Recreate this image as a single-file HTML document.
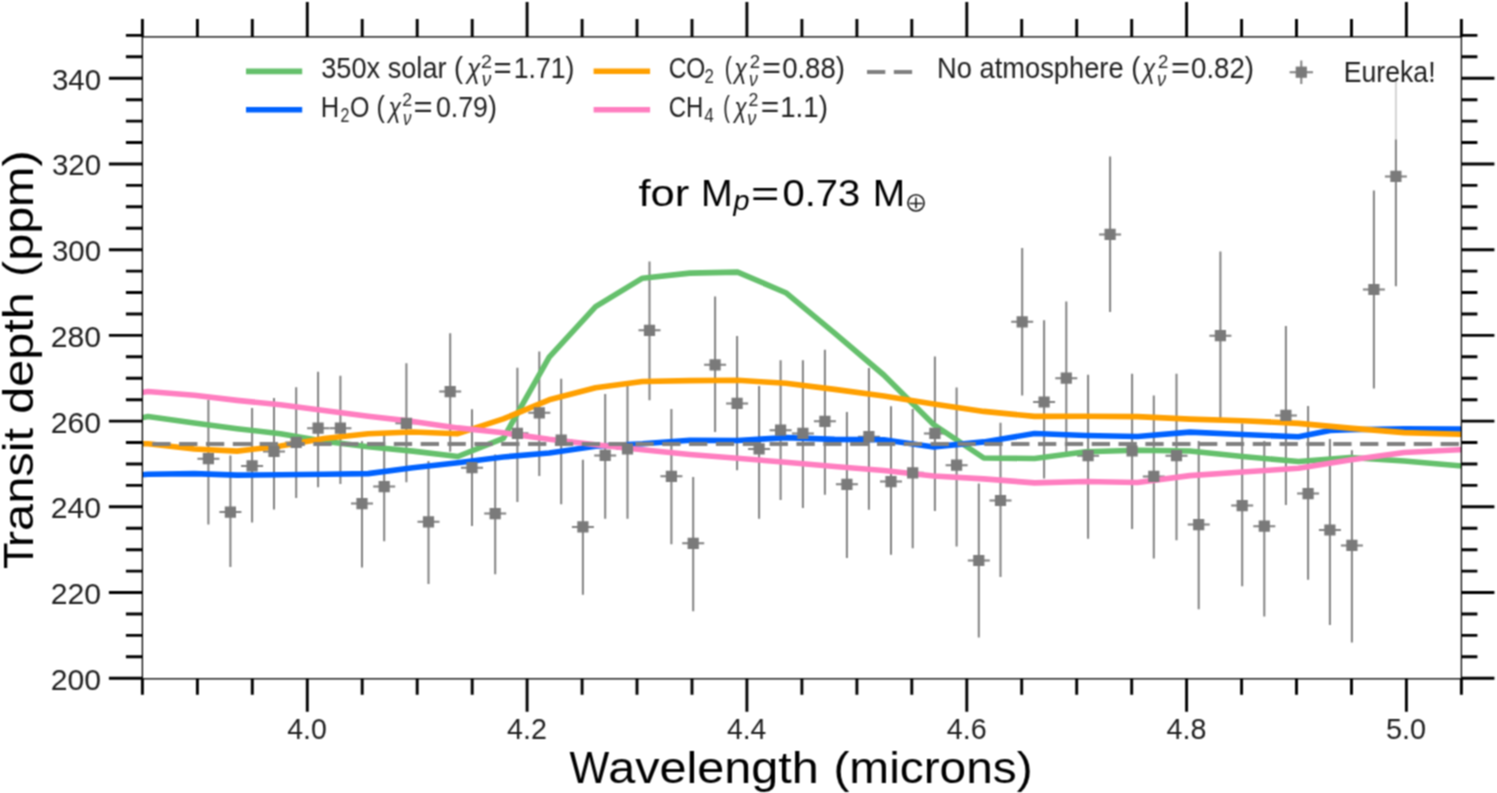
<!DOCTYPE html><html><head><meta charset="utf-8"><style>html,body{margin:0;padding:0;background:#fff;overflow:hidden;}svg{display:block;}text{font-family:"Liberation Sans",sans-serif;}</style></head><body>
<svg width="1497" height="793" viewBox="0 0 1497 793">
<defs><filter id="bl" filterUnits="userSpaceOnUse" x="-20" y="-20" width="1537" height="833" color-interpolation-filters="sRGB"><feConvolveMatrix order="3" kernelMatrix="1 2 1 2 4 2 1 2 1" divisor="16" edgeMode="duplicate" preserveAlpha="true"/></filter></defs>
<g filter="url(#bl)">
<rect x="-30" y="-30" width="1557" height="853" fill="#fff"/>
<defs><clipPath id="ax"><rect x="142.4" y="36.9" width="1319.0" height="641.9"/></clipPath></defs>
<g clip-path="url(#ax)">
<path d="M208.4 400.0V524.4M197.4 458.7H219.4M230.4 455.4V566.9M219.4 512.1H241.4M252.1 407.9V522.6M241.1 465.9H263.1M274.0 398.0V509.5M263.0 451.5H285.0M296.2 387.2V498.0M285.2 442.4H307.2M318.1 371.8V487.2M307.1 428.2H329.1M340.4 375.7V483.9M329.4 428.2H351.4M362.0 441.3V567.4M351.0 503.6H373.0M384.2 431.5V541.3M373.2 486.6H395.2M406.4 363.3V482.3M395.4 423.3H417.4M428.5 461.1V583.9M417.5 521.8H439.5M450.2 333.3V451.8M439.2 391.6H461.2M472.0 409.3V526.1M461.0 467.7H483.0M495.2 454.6V574.3M484.2 513.6H506.2M517.4 367.7V502.1M506.4 433.3H528.4M539.3 351.5V476.1M528.3 412.8H550.3M561.2 378.7V504.3M550.2 440.0H572.2M582.9 459.7V594.8M571.9 526.9H593.9M605.2 394.1V518.7M594.2 455.4H616.2M627.5 381.0V518.7M616.5 448.9H638.5M649.5 261.5V400.2M638.5 330.3H660.5M671.4 409.1V544.3M660.4 476.3H682.4M693.2 477.0V611.2M682.2 543.3H704.2M715.1 296.6V432.0M704.1 364.8H726.1M737.1 335.9V470.3M726.1 403.4H748.1M759.1 385.9V518.7M748.1 448.9H770.1M780.6 360.3V500.0M769.6 430.2H791.6M802.9 360.3V507.9M791.9 433.4H813.9M824.9 349.8V494.8M813.9 421.3H835.9M846.9 412.1V558.0M835.9 484.3H857.9M868.9 367.9V509.8M857.9 436.7H879.9M891.0 406.2V554.8M880.0 481.6H902.0M912.7 408.9V548.2M901.7 472.8H923.7M934.9 356.4V511.1M923.9 433.4H945.9M956.6 387.5V546.6M945.6 465.2H967.6M978.8 483.4V637.5M967.8 560.5H989.8M1000.5 422.8V576.9M989.5 500.5H1011.5M1022.2 248.0V395.6M1011.2 321.8H1033.2M1044.1 320.2V478.5M1033.1 402.0H1055.1M1066.3 301.5V454.9M1055.3 378.2H1077.3M1088.1 374.8V538.7M1077.1 455.7H1099.1M1110.1 156.4V312.1M1099.1 234.4H1121.1M1132.1 373.8V528.9M1121.1 451.0H1143.1M1153.8 395.4V558.4M1142.8 476.4H1164.8M1176.5 373.8V540.3M1165.5 455.7H1187.5M1198.7 441.0V609.2M1187.7 524.6H1209.7M1220.4 251.5V419.9M1209.4 335.7H1231.4M1242.2 423.6V586.2M1231.2 505.6H1253.2M1264.3 441.0V616.4M1253.3 526.2H1275.3M1285.9 325.9V504.9M1274.9 415.4H1296.9M1308.1 406.1V579.7M1297.1 493.6H1319.1M1329.9 438.9V625.1M1318.9 530.0H1340.9M1351.9 450.3V642.5M1340.9 545.4H1362.9M1373.9 190.5V388.5M1362.9 289.5H1384.9M1395.9 81.3V286.2M1384.9 176.4H1406.9" stroke="#808080" stroke-width="2" fill="none"/>
<path d="M109.9 424.0 L148.0 416.6 L194.3 422.9 L237.1 428.7 L280.4 433.7 L324.1 441.3 L368.2 446.8 L412.8 451.1 L457.8 456.5 L503.3 438.3 L549.2 357.1 L595.6 306.7 L642.5 278.2 L689.8 273.1 L737.6 272.1 L785.8 292.7 L834.6 333.1 L883.8 375.0 L933.6 424.5 L983.8 458.0 L1034.5 458.5 L1085.8 451.7 L1137.5 450.3 L1189.8 451.0 L1242.6 456.5 L1298.5 461.5 L1349.8 457.5 L1404.2 461.0 L1459.1 465.7 L1514.6 466.0" stroke="#65c06c" stroke-width="5.6" fill="none" stroke-linejoin="round" stroke-linecap="square"/>
<path d="M109.9 477.0 L148.0 474.3 L194.3 473.6 L237.1 475.1 L280.4 474.8 L324.1 474.2 L368.2 473.6 L412.8 467.8 L457.8 462.7 L503.3 457.0 L549.2 453.0 L595.6 446.2 L642.5 443.8 L689.8 440.2 L737.6 440.5 L785.8 437.6 L834.6 439.4 L883.8 439.7 L933.6 446.9 L983.8 441.9 L1034.5 433.5 L1085.8 435.5 L1137.5 436.5 L1189.8 432.1 L1242.6 434.5 L1298.5 436.8 L1330.0 430.4 L1349.8 429.8 L1404.2 428.8 L1459.1 429.0 L1514.6 429.0" stroke="#0062ff" stroke-width="5.6" fill="none" stroke-linejoin="round" stroke-linecap="square"/>
<path d="M109.9 443.5 L148.0 443.8 L194.3 449.0 L237.1 451.1 L280.4 446.1 L324.1 438.5 L368.2 433.7 L412.8 432.0 L457.8 433.7 L503.3 418.9 L549.2 399.8 L595.6 387.8 L642.5 381.5 L689.8 380.6 L737.6 380.3 L785.8 383.3 L834.6 389.4 L883.8 396.0 L933.6 403.9 L983.8 411.4 L1034.5 416.4 L1085.8 416.2 L1137.5 416.6 L1189.8 419.1 L1242.6 420.7 L1298.5 423.4 L1349.8 428.1 L1404.2 432.6 L1459.1 434.3 L1514.6 435.0" stroke="#ffa000" stroke-width="5.6" fill="none" stroke-linejoin="round" stroke-linecap="square"/>
<path d="M109.9 398.0 L148.0 391.5 L194.3 395.3 L237.1 400.4 L280.4 404.7 L324.1 410.5 L368.2 416.3 L412.8 421.4 L457.8 427.9 L503.3 432.8 L549.2 439.3 L595.6 444.7 L642.5 449.8 L689.8 454.5 L737.6 458.3 L785.8 462.2 L834.6 466.5 L883.8 470.5 L933.6 476.0 L983.8 478.9 L1034.5 482.9 L1085.8 481.5 L1137.5 482.5 L1189.8 475.6 L1242.6 472.0 L1298.5 468.2 L1349.8 460.0 L1404.2 452.5 L1459.1 449.8 L1514.6 449.5" stroke="#ff7ec0" stroke-width="5.6" fill="none" stroke-linejoin="round" stroke-linecap="square"/>
<path d="M98.6 444H1470" stroke="#808080" stroke-width="3.8" stroke-dasharray="18.3 8.54" fill="none"/>
<path d="M202.8 453.1h11.2v11.2h-11.2zM224.8 506.5h11.2v11.2h-11.2zM246.5 460.3h11.2v11.2h-11.2zM268.4 445.9h11.2v11.2h-11.2zM290.6 436.8h11.2v11.2h-11.2zM312.5 422.6h11.2v11.2h-11.2zM334.8 422.6h11.2v11.2h-11.2zM356.4 498.0h11.2v11.2h-11.2zM378.6 481.0h11.2v11.2h-11.2zM400.8 417.7h11.2v11.2h-11.2zM422.9 516.2h11.2v11.2h-11.2zM444.6 386.0h11.2v11.2h-11.2zM466.4 462.1h11.2v11.2h-11.2zM489.6 508.0h11.2v11.2h-11.2zM511.8 427.7h11.2v11.2h-11.2zM533.7 407.2h11.2v11.2h-11.2zM555.6 434.4h11.2v11.2h-11.2zM577.3 521.3h11.2v11.2h-11.2zM599.6 449.8h11.2v11.2h-11.2zM621.9 443.3h11.2v11.2h-11.2zM643.9 324.7h11.2v11.2h-11.2zM665.8 470.7h11.2v11.2h-11.2zM687.6 537.7h11.2v11.2h-11.2zM709.5 359.2h11.2v11.2h-11.2zM731.5 397.8h11.2v11.2h-11.2zM753.5 443.3h11.2v11.2h-11.2zM775.0 424.6h11.2v11.2h-11.2zM797.3 427.8h11.2v11.2h-11.2zM819.3 415.7h11.2v11.2h-11.2zM841.3 478.7h11.2v11.2h-11.2zM863.3 431.1h11.2v11.2h-11.2zM885.4 476.0h11.2v11.2h-11.2zM907.1 467.2h11.2v11.2h-11.2zM929.3 427.8h11.2v11.2h-11.2zM951.0 459.6h11.2v11.2h-11.2zM973.2 554.9h11.2v11.2h-11.2zM994.9 494.9h11.2v11.2h-11.2zM1016.6 316.2h11.2v11.2h-11.2zM1038.5 396.4h11.2v11.2h-11.2zM1060.7 372.6h11.2v11.2h-11.2zM1082.5 450.1h11.2v11.2h-11.2zM1104.5 228.8h11.2v11.2h-11.2zM1126.5 445.4h11.2v11.2h-11.2zM1148.2 470.8h11.2v11.2h-11.2zM1170.9 450.1h11.2v11.2h-11.2zM1193.1 519.0h11.2v11.2h-11.2zM1214.8 330.1h11.2v11.2h-11.2zM1236.6 500.0h11.2v11.2h-11.2zM1258.7 520.6h11.2v11.2h-11.2zM1280.3 409.8h11.2v11.2h-11.2zM1302.5 488.0h11.2v11.2h-11.2zM1324.3 524.4h11.2v11.2h-11.2zM1346.3 539.8h11.2v11.2h-11.2zM1368.3 283.9h11.2v11.2h-11.2zM1390.3 170.8h11.2v11.2h-11.2z" fill="#7a7a7a"/>
</g>
<rect x="236" y="46" width="1214" height="93.5" fill="#fff" fill-opacity="0.65"/>
<rect x="142.4" y="36.9" width="1319.0" height="641.9" fill="none" stroke="#000" stroke-width="1.3"/>
<path d="M142.4 678.8V694.8M142.4 36.9V18.9M197.4 678.8V694.8M197.4 36.9V18.9M252.3 678.8V694.8M252.3 36.9V18.9M307.3 678.8V711.8M307.3 36.9V1.9M362.2 678.8V694.8M362.2 36.9V18.9M417.2 678.8V694.8M417.2 36.9V18.9M472.2 678.8V694.8M472.2 36.9V18.9M527.1 678.8V711.8M527.1 36.9V1.9M582.1 678.8V694.8M582.1 36.9V18.9M637.0 678.8V694.8M637.0 36.9V18.9M692.0 678.8V694.8M692.0 36.9V18.9M746.9 678.8V711.8M746.9 36.9V1.9M801.9 678.8V694.8M801.9 36.9V18.9M856.9 678.8V694.8M856.9 36.9V18.9M911.8 678.8V694.8M911.8 36.9V18.9M966.8 678.8V711.8M966.8 36.9V1.9M1021.7 678.8V694.8M1021.7 36.9V18.9M1076.7 678.8V694.8M1076.7 36.9V18.9M1131.7 678.8V694.8M1131.7 36.9V18.9M1186.6 678.8V711.8M1186.6 36.9V1.9M1241.6 678.8V694.8M1241.6 36.9V18.9M1296.5 678.8V694.8M1296.5 36.9V18.9M1351.5 678.8V694.8M1351.5 36.9V18.9M1406.4 678.8V711.8M1406.4 36.9V1.9M1461.4 678.8V694.8M1461.4 36.9V18.9M142.4 678.2H108.9M1461.4 678.2H1494.4M142.4 656.8H125.9M1461.4 656.8H1477.4M142.4 635.4H125.9M1461.4 635.4H1477.4M142.4 614.0H125.9M1461.4 614.0H1477.4M142.4 592.5H108.9M1461.4 592.5H1494.4M142.4 571.1H125.9M1461.4 571.1H1477.4M142.4 549.7H125.9M1461.4 549.7H1477.4M142.4 528.2H125.9M1461.4 528.2H1477.4M142.4 506.8H108.9M1461.4 506.8H1494.4M142.4 485.4H125.9M1461.4 485.4H1477.4M142.4 464.0H125.9M1461.4 464.0H1477.4M142.4 442.5H125.9M1461.4 442.5H1477.4M142.4 421.1H108.9M1461.4 421.1H1494.4M142.4 399.7H125.9M1461.4 399.7H1477.4M142.4 378.2H125.9M1461.4 378.2H1477.4M142.4 356.8H125.9M1461.4 356.8H1477.4M142.4 335.4H108.9M1461.4 335.4H1494.4M142.4 314.0H125.9M1461.4 314.0H1477.4M142.4 292.5H125.9M1461.4 292.5H1477.4M142.4 271.1H125.9M1461.4 271.1H1477.4M142.4 249.7H108.9M1461.4 249.7H1494.4M142.4 228.2H125.9M1461.4 228.2H1477.4M142.4 206.8H125.9M1461.4 206.8H1477.4M142.4 185.4H125.9M1461.4 185.4H1477.4M142.4 164.0H108.9M1461.4 164.0H1494.4M142.4 142.5H125.9M1461.4 142.5H1477.4M142.4 121.1H125.9M1461.4 121.1H1477.4M142.4 99.7H125.9M1461.4 99.7H1477.4M142.4 78.2H108.9M1461.4 78.2H1494.4M142.4 56.8H125.9M1461.4 56.8H1477.4M142.4 35.4H125.9M1461.4 35.4H1477.4" stroke="#000" stroke-width="2.9" fill="none"/>
<text x="287.25" y="738.60" font-size="29.4" fill="#1e1e1e" textLength="39.61" lengthAdjust="spacingAndGlyphs">4.0</text>
<text x="507.08" y="738.60" font-size="29.4" fill="#1e1e1e" textLength="39.87" lengthAdjust="spacingAndGlyphs">4.2</text>
<text x="726.92" y="738.60" font-size="29.4" fill="#1e1e1e" textLength="39.36" lengthAdjust="spacingAndGlyphs">4.4</text>
<text x="946.75" y="738.60" font-size="29.4" fill="#1e1e1e" textLength="39.87" lengthAdjust="spacingAndGlyphs">4.6</text>
<text x="1166.58" y="738.60" font-size="29.4" fill="#1e1e1e" textLength="39.87" lengthAdjust="spacingAndGlyphs">4.8</text>
<text x="1385.92" y="738.60" font-size="29.4" fill="#1e1e1e" textLength="40.13" lengthAdjust="spacingAndGlyphs">5.0</text>
<text x="50.76" y="689.75" font-size="29.4" fill="#1e1e1e" textLength="50.32" lengthAdjust="spacingAndGlyphs">200</text>
<text x="50.76" y="604.03" font-size="29.4" fill="#1e1e1e" textLength="50.32" lengthAdjust="spacingAndGlyphs">220</text>
<text x="50.76" y="518.32" font-size="29.4" fill="#1e1e1e" textLength="50.32" lengthAdjust="spacingAndGlyphs">240</text>
<text x="50.76" y="432.60" font-size="29.4" fill="#1e1e1e" textLength="50.32" lengthAdjust="spacingAndGlyphs">260</text>
<text x="50.76" y="346.89" font-size="29.4" fill="#1e1e1e" textLength="50.32" lengthAdjust="spacingAndGlyphs">280</text>
<text x="51.90" y="261.17" font-size="29.4" fill="#1e1e1e" textLength="49.16" lengthAdjust="spacingAndGlyphs">300</text>
<text x="51.90" y="175.46" font-size="29.4" fill="#1e1e1e" textLength="49.16" lengthAdjust="spacingAndGlyphs">320</text>
<text x="51.90" y="89.74" font-size="29.4" fill="#1e1e1e" textLength="49.16" lengthAdjust="spacingAndGlyphs">340</text>
<text x="569.46" y="782.80" font-size="43.8" textLength="39.73" lengthAdjust="spacingAndGlyphs">W</text>
<text x="608.16" y="782.80" font-size="43.8" textLength="210.71" lengthAdjust="spacingAndGlyphs">avelength</text>
<text x="833.40" y="782.80" font-size="43.8" textLength="199.18" lengthAdjust="spacingAndGlyphs">(microns)</text>
<text transform="translate(32.90,567.9) rotate(-90)" x="-1.02" y="0" font-size="42.8" textLength="26.63" lengthAdjust="spacingAndGlyphs">T</text>
<text transform="translate(32.90,567.9) rotate(-90)" x="20.67" y="0" font-size="42.8" textLength="119.29" lengthAdjust="spacingAndGlyphs">ransit</text>
<text transform="translate(32.90,567.9) rotate(-90)" x="154.22" y="0" font-size="42.8" textLength="121.31" lengthAdjust="spacingAndGlyphs">depth</text>
<text transform="translate(32.90,567.9) rotate(-90)" x="290.88" y="0" font-size="42.8" textLength="126.75" lengthAdjust="spacingAndGlyphs">(ppm)</text>
<text x="321.26" y="78.40" font-size="29" fill="#1e1e1e" textLength="141.89" lengthAdjust="spacingAndGlyphs">350x solar (</text>
<text x="467.09" y="78.40" font-size="27.5" font-style="italic" fill="#1e1e1e" textLength="13.41" lengthAdjust="spacingAndGlyphs">χ</text>
<text x="481.05" y="68.20" font-size="18.8" fill="#1e1e1e" textLength="10.95" lengthAdjust="spacingAndGlyphs">2</text>
<text x="481.64" y="86.10" font-size="19.8" font-style="italic" fill="#1e1e1e" textLength="9.50" lengthAdjust="spacingAndGlyphs">ν</text>
<text x="493.59" y="78.40" font-size="29" fill="#1e1e1e" textLength="18.15" lengthAdjust="spacingAndGlyphs">=</text>
<text x="513.73" y="78.40" font-size="29" fill="#1e1e1e" textLength="60.77" lengthAdjust="spacingAndGlyphs">1.71)</text>
<text x="320.72" y="116.60" font-size="29" fill="#1e1e1e" textLength="18.43" lengthAdjust="spacingAndGlyphs">H</text>
<text x="340.61" y="122.00" font-size="20.2" fill="#1e1e1e" textLength="8.87" lengthAdjust="spacingAndGlyphs">2</text>
<text x="350.02" y="116.60" font-size="29" fill="#1e1e1e" textLength="34.71" lengthAdjust="spacingAndGlyphs">O (</text>
<text x="388.47" y="116.60" font-size="27.5" font-style="italic" fill="#1e1e1e" textLength="12.53" lengthAdjust="spacingAndGlyphs">χ</text>
<text x="402.26" y="106.00" font-size="18.8" fill="#1e1e1e" textLength="9.84" lengthAdjust="spacingAndGlyphs">2</text>
<text x="402.95" y="124.50" font-size="19.8" font-style="italic" fill="#1e1e1e" textLength="8.37" lengthAdjust="spacingAndGlyphs">ν</text>
<text x="413.61" y="116.60" font-size="29" fill="#1e1e1e" textLength="19.12" lengthAdjust="spacingAndGlyphs">=</text>
<text x="435.88" y="116.60" font-size="29" fill="#1e1e1e" textLength="61.03" lengthAdjust="spacingAndGlyphs">0.79)</text>
<text x="668.74" y="78.40" font-size="29" fill="#1e1e1e" textLength="36.63" lengthAdjust="spacingAndGlyphs">CO</text>
<text x="704.57" y="83.40" font-size="20.2" fill="#1e1e1e" textLength="9.35" lengthAdjust="spacingAndGlyphs">2</text>
<text x="724.81" y="78.40" font-size="29" fill="#1e1e1e" textLength="7.10" lengthAdjust="spacingAndGlyphs">(</text>
<text x="734.20" y="78.40" font-size="27.5" font-style="italic" fill="#1e1e1e" textLength="12.80" lengthAdjust="spacingAndGlyphs">χ</text>
<text x="749.81" y="68.20" font-size="18.8" fill="#1e1e1e" textLength="10.33" lengthAdjust="spacingAndGlyphs">2</text>
<text x="748.92" y="86.30" font-size="19.8" font-style="italic" fill="#1e1e1e" textLength="8.71" lengthAdjust="spacingAndGlyphs">ν</text>
<text x="762.02" y="78.40" font-size="29" fill="#1e1e1e" textLength="18.99" lengthAdjust="spacingAndGlyphs">=</text>
<text x="782.15" y="78.40" font-size="29" fill="#1e1e1e" textLength="62.81" lengthAdjust="spacingAndGlyphs">0.88)</text>
<text x="668.76" y="116.60" font-size="29" fill="#1e1e1e" textLength="34.61" lengthAdjust="spacingAndGlyphs">CH</text>
<text x="704.28" y="121.70" font-size="20.2" fill="#1e1e1e" textLength="9.54" lengthAdjust="spacingAndGlyphs">4</text>
<text x="723.30" y="116.60" font-size="29" fill="#1e1e1e" textLength="6.61" lengthAdjust="spacingAndGlyphs">(</text>
<text x="734.42" y="116.60" font-size="27.5" font-style="italic" fill="#1e1e1e" textLength="12.19" lengthAdjust="spacingAndGlyphs">χ</text>
<text x="748.56" y="106.00" font-size="18.8" fill="#1e1e1e" textLength="9.84" lengthAdjust="spacingAndGlyphs">2</text>
<text x="747.29" y="124.50" font-size="19.8" font-style="italic" fill="#1e1e1e" textLength="9.05" lengthAdjust="spacingAndGlyphs">ν</text>
<text x="760.76" y="116.60" font-size="29" fill="#1e1e1e" textLength="18.51" lengthAdjust="spacingAndGlyphs">=</text>
<text x="780.26" y="116.60" font-size="29" fill="#1e1e1e" textLength="47.58" lengthAdjust="spacingAndGlyphs">1.1)</text>
<text x="936.98" y="78.40" font-size="29" fill="#1e1e1e" textLength="203.34" lengthAdjust="spacingAndGlyphs">No atmosphere (</text>
<text x="1142.50" y="78.40" font-size="27.5" font-style="italic" fill="#1e1e1e" textLength="12.80" lengthAdjust="spacingAndGlyphs">χ</text>
<text x="1158.11" y="68.20" font-size="18.8" fill="#1e1e1e" textLength="10.33" lengthAdjust="spacingAndGlyphs">2</text>
<text x="1156.89" y="86.30" font-size="19.8" font-style="italic" fill="#1e1e1e" textLength="9.05" lengthAdjust="spacingAndGlyphs">ν</text>
<text x="1171.02" y="78.40" font-size="29" fill="#1e1e1e" textLength="18.99" lengthAdjust="spacingAndGlyphs">=</text>
<text x="1191.05" y="78.40" font-size="29" fill="#1e1e1e" textLength="62.91" lengthAdjust="spacingAndGlyphs">0.82)</text>
<text x="1343.63" y="81.60" font-size="29" fill="#1e1e1e" textLength="91.95" lengthAdjust="spacingAndGlyphs">Eureka!</text>
<text x="638.42" y="206.10" font-size="37.5" textLength="50.78" lengthAdjust="spacingAndGlyphs">for</text>
<text x="701.06" y="206.10" font-size="37.5" textLength="31.67" lengthAdjust="spacingAndGlyphs">M</text>
<text x="733.49" y="210.40" font-size="27.5" font-style="italic" textLength="16.05" lengthAdjust="spacingAndGlyphs">p</text>
<text x="750.94" y="206.10" font-size="37.5" textLength="28.32" lengthAdjust="spacingAndGlyphs">=</text>
<text x="782.50" y="206.10" font-size="37.5" textLength="77.75" lengthAdjust="spacingAndGlyphs">0.73</text>
<text x="872.89" y="206.10" font-size="37.5" textLength="32.41" lengthAdjust="spacingAndGlyphs">M</text>
<g stroke="#1a1a1a" stroke-width="1.6" fill="none"><circle cx="916.0" cy="202.9" r="8.1"/><path d="M916.0 197.6V208.2M909.6 203.5H922.6"/></g>
<path d="M248.8 71.4H299.4" stroke="#65c06c" stroke-width="5.6" stroke-linecap="square"/>
<path d="M248.8 109.8H299.4" stroke="#0062ff" stroke-width="5.6" stroke-linecap="square"/>
<path d="M596.4 71.3H647.3" stroke="#ffa000" stroke-width="5.6" stroke-linecap="square"/>
<path d="M596.4 109.7H647.3" stroke="#ff7ec0" stroke-width="5.6" stroke-linecap="square"/>
<path d="M867 72H917.6" stroke="#808080" stroke-width="3.8" stroke-dasharray="18.3 8.54"/>
<path d="M1301.3 60.5V83.9M1289.6 72.2H1313" stroke="#808080" stroke-width="2"/>
<rect x="1295.7" y="66.6" width="11.2" height="11.2" fill="#7a7a7a"/>
</g></svg></body></html>
